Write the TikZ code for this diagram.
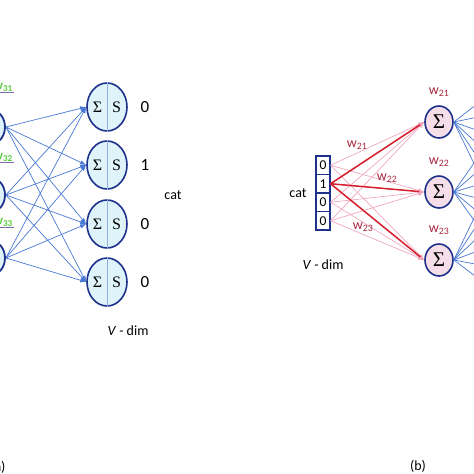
\documentclass[tikz,border=0pt]{standalone}
\usepackage{fontspec}
\setmainfont{Carlito}
\newfontfamily\serifface{Liberation Serif}
\usetikzlibrary{arrows.meta,shapes.geometric}

\definecolor{wireblue}{RGB}{72,120,212}
\definecolor{rimblue}{RGB}{30,50,140}
\definecolor{cyanfill}{RGB}{222,244,250}
\definecolor{pinkfill}{RGB}{246,222,232}
\definecolor{wirepink}{RGB}{240,168,190}
\definecolor{wirered}{RGB}{214,30,44}
\definecolor{labelred}{RGB}{168,40,62}
\definecolor{wgreen}{RGB}{84,204,60}
\definecolor{ulpurple}{RGB}{128,108,170}

\tikzset{
  every node/.style={font=\fontsize{14pt}{16pt}\selectfont},
  inunit/.style={ellipse, draw=rimblue, line width=1.8pt, fill=cyanfill, minimum width=28pt, minimum height=34pt},
  outunit/.style={ellipse, draw=rimblue, line width=1.6pt, fill=cyanfill, minimum width=40pt, minimum height=48pt},
  sumunit/.style={ellipse, draw=rimblue, line width=1.6pt, fill=pinkfill, minimum width=28pt, minimum height=32pt, inner sep=0pt,
    font=\serifface\fontsize{21pt}{23pt}\selectfont},
  cellbox/.style={draw=rimblue, line width=1.1pt, minimum width=14pt, minimum height=18.5pt, inner sep=0pt,
    font=\fontsize{13.5pt}{15pt}\selectfont},
  bluewire/.style={wireblue, line width=0.7pt, -{Latex[length=6pt,width=4.5pt]}},
  pinkwire/.style={wirepink, line width=0.7pt, -{Latex[length=6pt,width=4.5pt]}},
  redwire/.style={wirered, line width=1.5pt, shorten >=5pt},
  wlabel/.style={labelred, font=\fontsize{14pt}{16pt}\selectfont},
  glabel/.style={wgreen, font=\bfseries\fontsize{13pt}{15pt}\selectfont, inner sep=1pt}
}

\begin{document}
\begin{tikzpicture}[x=1pt,y=-1pt]
  \useasboundingbox (0,0) rectangle (474,474);
  \clip (0,0) rectangle (474,474);

  % ---------- panel (a) ----------
  % input units (cut by the left edge)
  \node[inunit] (in1) at (-9,127) {};
  \node[inunit] (in2) at (-9,195) {};
  \node[inunit] (in3) at (-9,258) {};

  % green weight labels
  \foreach \k/\y in {1/87,2/157,3/222} {
    \node[glabel, anchor=east] (g\k) at (14,\y) {w\textsubscript{3\k}};
    \draw[ulpurple, line width=1pt] (g\k.south west) -- (g\k.south east);
  }

  % output units with sum and S halves
  \foreach \j/\y/\v in {1/107/0,2/165/1,3/224/0,4/282/0} {
    \node[outunit] (out\j) at (107,\y) {};
    \draw[wireblue!60, line width=0.6pt] (out\j.north) -- (out\j.south);
    \node[font=\serifface\fontsize{16pt}{18pt}\selectfont] (sg\j) at ([xshift=-9.5pt]out\j.center) {Σ};
    \node[font=\serifface\fontsize{16pt}{18pt}\selectfont] (ss\j) at ([xshift=9.5pt]out\j.center) {S};
    \node[font=\fontsize{17pt}{19pt}\selectfont] (val\j) at (145,\y) {\v};
  }

  % all-to-all connectors
  \foreach \i in {1,2,3}
    \foreach \j in {1,2,3,4}
      \draw[bluewire] (in\i.east) -- (out\j.west);

  \node (cata) at (173,195) {cat};
  \node (dima) at (128,331) {\textit{V} - dim};
  \node[anchor=east] (capa) at (9,467) {(a)};

  % ---------- panel (b) ----------
  % one-hot vector
  \foreach \i/\v in {1/0,2/1,3/0,4/0}
    \node[cellbox] (c\i) at (323,{156+18.5*(\i-0.5)}) {\v};
  \draw[rimblue, line width=1.8pt] (c1.north west) rectangle (c4.south east);

  \node (catb) at (298,193) {cat};
  \node (dimb) at (323,265) {\textit{V} - dim};

  % hidden units
  \foreach \j/\y in {1/122,2/192,3/260} {
    \node[sumunit] (s\j) at (439,\y) {Σ};
    \node[wlabel] (h\j) at (439,\y-30) {w\textsubscript{2\j}};
  }

  % off-frame targets of the next layer
  \foreach \t/\y in {1/40,2/100,3/160,4/220,5/280,6/340}
    \coordinate (nx\t) at (560,\y);

  \foreach \j in {1,2,3}
    \foreach \t in {1,...,6}
      \draw[wireblue, line width=0.7pt] (s\j.east) -- (nx\t);

  % vector to hidden
  \foreach \i in {1,2,3,4}
    \foreach \j in {1,2,3}
      \draw[pinkwire] (c\i.east) -- (s\j.west);
  \foreach \j in {1,2,3}
    \draw[redwire] (c2.east) -- (s\j.west);

  % weight labels on the connectors
  \node[wlabel] (e1) at (357,145) {w\textsubscript{21}};
  \node[wlabel] (e2) at (387,178) {w\textsubscript{22}};
  \node[wlabel] (e3) at (363,227) {w\textsubscript{23}};

  \node (capb) at (418,466) {(b)};
\end{tikzpicture}
\end{document}
